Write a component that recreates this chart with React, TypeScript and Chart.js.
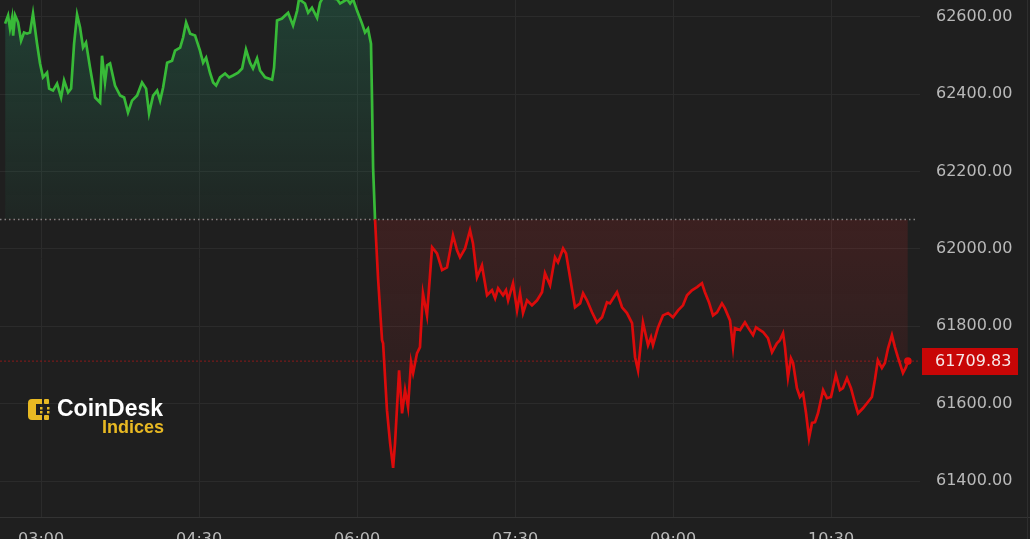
import React, { useEffect, useRef } from "react";
import { Chart, registerables } from "chart.js";

Chart.register(...registerables);

// minutes since 00:00
const times: number[] = [
  159.5, 161.2, 162.3, 163.5, 164.1, 165.2, 166.9, 168.6, 170.3, 172.0, 173.7, 175.4, 177.7, 179.4, 181.1, 183.4, 184.6, 186.8, 189.1, 191.4,
  193.1, 195.4, 197.1, 198.8, 200.5, 202.2, 203.9, 205.6, 207.9, 210.8, 213.6, 214.7, 216.4, 217.6, 219.3, 222.1, 225.0, 227.3, 229.5, 231.8,
  234.7, 237.5, 239.8, 241.5, 243.8, 246.1, 247.8, 249.5, 251.8, 254.6, 256.3, 259.2, 260.9, 262.6, 264.9, 267.7, 270.5, 272.3, 274.0, 276.2,
  278.0, 279.7, 281.9, 284.8, 287.1, 289.3, 292.2, 294.5, 296.7, 299.0, 300.7, 303.0, 304.7, 307.6, 311.6, 312.7, 314.4, 317.2, 319.0, 320.7,
  323.5, 325.8, 326.9, 330.3, 332.1, 334.3, 337.2, 338.9, 340.6, 344.6, 348.6, 350.3, 354.3, 356.0, 357.7, 360.0, 362.8, 364.5, 366.2, 367.9,
  368.5, 369.1, 370.2,
  371.9, 374.2, 374.8, 377.0, 378.8, 380.5, 381.6, 383.9, 385.6, 387.3, 389.0, 390.7, 391.9, 394.1, 395.8, 397.5, 399.8, 402.7, 405.5, 408.4,
  411.2, 414.6, 416.9, 418.6, 421.5, 424.3, 426.0, 428.3, 431.1, 434.0, 436.8, 438.6, 440.3, 443.1, 444.8, 446.0, 448.8, 451.1, 452.8, 454.5,
  456.8, 459.6, 462.5, 465.3, 467.0, 469.9, 472.7, 474.4, 477.3, 479.0, 481.3, 484.1, 487.0, 488.7, 490.9, 493.8, 496.6, 499.5, 502.3, 504.0,
  508.0, 510.9, 513.7, 516.6, 518.3, 520.0, 522.8, 525.7, 527.4, 528.5, 531.4, 534.2, 537.1, 539.9, 542.8, 545.6, 547.9, 550.7, 553.6, 556.4,
  558.1, 560.4, 562.7, 565.0, 567.8, 569.5, 572.4, 574.1, 575.2, 578.1, 580.9, 582.6, 585.5, 587.2, 589.5, 591.2, 594.0, 596.3, 599.1, 600.8,
  602.6, 603.7, 605.4, 607.1, 608.3, 610.5, 612.2, 614.0, 615.7, 617.4, 619.1, 620.8, 622.5, 625.4, 627.6, 629.9, 632.7, 635.0, 636.7, 639.0,
  641.3, 643.6, 645.3, 648.1, 650.4, 653.2, 654.9, 656.6, 658.9, 660.6, 662.4, 664.6, 666.3, 668.0, 670.9, 672.6, 673.7,
];

const prices: number[] = [
  62582, 62603, 62569, 62597, 62551, 62603, 62585, 62538, 62559, 62556, 62559, 62608, 62530, 62479, 62443, 62455, 62414, 62409, 62427, 62391,
  62435, 62404, 62414, 62530, 62605, 62572, 62520, 62533, 62468, 62391, 62378, 62499, 62430, 62474, 62479, 62422, 62396, 62391, 62352, 62383,
  62396, 62430, 62414, 62350, 62396, 62409, 62383, 62417, 62481, 62486, 62512, 62520, 62546, 62585, 62556, 62551, 62512, 62481, 62494, 62455,
  62430, 62422, 62443, 62453, 62443, 62448, 62455, 62466, 62515, 62481, 62466, 62492, 62461, 62443, 62437, 62468, 62590, 62595, 62603, 62610,
  62577, 62615, 62645, 62634, 62610, 62623, 62597, 62636, 62650, 62648, 62645, 62634, 62645, 62634, 62645, 62615, 62582, 62559, 62569, 62530,
  62383, 62210, 62076,
  61926, 61764, 61756, 61583, 61498, 61434, 61498, 61686, 61575, 61635, 61591, 61707, 61679, 61730, 61746, 61885, 61828, 62004, 61988, 61945,
  61952, 62035, 61996, 61978, 62001, 62048, 62014, 61926, 61957, 61880, 61893, 61872, 61898, 61880, 61893, 61867, 61911, 61841, 61885, 61834,
  61867, 61854, 61867, 61888, 61937, 61906, 61978, 61965, 62001, 61988, 61926, 61849, 61859, 61885, 61867, 61836, 61810, 61823, 61862, 61859,
  61888, 61849, 61834, 61808, 61720, 61686, 61810, 61751, 61772, 61751, 61797, 61828, 61834, 61823, 61841, 61854, 61880, 61893, 61901, 61911,
  61888, 61862, 61828, 61836, 61859, 61846, 61815, 61746, 61795, 61790, 61810, 61797, 61777, 61797, 61790, 61785, 61769, 61733, 61756, 61764,
  61782, 61746, 61668, 61717, 61705, 61640, 61617, 61627, 61575, 61511, 61550, 61552, 61575, 61635, 61614, 61617, 61674, 61635, 61640, 61666,
  61640, 61601, 61575, 61588, 61601, 61617, 61661, 61712, 61692, 61705, 61743, 61777, 61746, 61720, 61679, 61694, 61709.83,
];

const baselinePrice = 62076;
const lastPrice = 61709.83;
const timeTicks: number[] = [180, 270, 360, 450, 540, 630];
const priceTicks: number[] = [61400, 61600, 61800, 62000, 62200, 62400, 62600];
const timeRange: number[] = [156.6, 680.6];
const priceRange: number[] = [61307, 62643];

const GREEN = "#38ba38";
const RED = "#dc0b0b";
const FONT = "'DejaVu Sans', sans-serif";

const pad2 = (n: number) => String(n).padStart(2, "0");

export default function App() {
  const ref = useRef<HTMLCanvasElement | null>(null);

  useEffect(() => {
    document.body.style.margin = "0";
    document.body.style.background = "#1f1f1f";
    const canvas = ref.current!;
    const n = Math.min(times.length, prices.length);
    const series = [] as { x: number; y: number }[];
    for (let i = 0; i < n; i++) series.push({ x: times[i], y: prices[i] });
    const lastIdx = n - 1;

    const priceLabel = {
      id: "priceLabel",
      afterDraw(chart: any) {
        const { ctx, chartArea } = chart;
        const y = chart.scales.y.getPixelForValue(lastPrice);
        ctx.save();
        ctx.fillStyle = "#c80606";
        ctx.fillRect(chartArea.right + 2, Math.round(y) - 13, 96, 27);
        ctx.fillStyle = "#f6e8e8";
        ctx.font = `16px ${FONT}`;
        ctx.textBaseline = "middle";
        ctx.textAlign = "left";
        ctx.fillText(lastPrice.toFixed(2), chartArea.right + 15, Math.round(y) + 1);
        ctx.restore();
      },
    };

    const chart = new Chart(canvas, {
      type: "line",
      data: {
        datasets: [
          {
            data: series,
            borderWidth: 2.7,
            borderColor: GREEN,
            segment: {
              borderColor: (c: any) => ((c.p0.parsed.y + c.p1.parsed.y) / 2 < baselinePrice ? RED : GREEN),
            },
            pointRadius: (c: any) => (c.dataIndex === lastIdx ? 2.5 : 0),
            pointHoverRadius: 0,
            pointBackgroundColor: RED,
            pointBorderColor: RED,
            tension: 0,
            fill: false,
          } as any,
          {
            data: [
              { x: timeRange[0], y: baselinePrice },
              { x: timeRange[1] - 1.2, y: baselinePrice },
            ],
            borderColor: "rgba(150,150,150,0.85)",
            borderWidth: 1.5,
            borderDash: [1.5, 3],
            pointRadius: 0,
            pointHoverRadius: 0,
            fill: false,
          },
          {
            data: [
              { x: timeRange[0], y: lastPrice },
              { x: timeRange[1], y: lastPrice },
            ],
            borderColor: "rgba(150,25,25,0.9)",
            borderWidth: 1,
            borderDash: [2, 2],
            pointRadius: 0,
            pointHoverRadius: 0,
            fill: false,
          },
        ],
      },
      options: {
        animation: false,
        responsive: false,
        maintainAspectRatio: false,
        layout: { padding: 0, autoPadding: false },
        plugins: { legend: { display: false }, tooltip: { enabled: false } },
        scales: {
          x: {
            type: "linear",
            min: timeRange[0],
            max: timeRange[1],
            afterBuildTicks: (s: any) => {
              s.ticks = timeTicks.map((v) => ({ value: v }));
            },
            afterFit: (s: any) => {
              s.height = 22;
              s.paddingLeft = 0;
              s.paddingRight = 0;
            },
            ticks: {
              color: "#b9b9b9",
              font: { family: FONT, size: 16 },
              padding: 13,
              maxRotation: 0,
              autoSkip: false,
              callback: (v: any) => `${pad2(Math.floor(v / 60))}:${pad2(Math.round(v % 60))}`,
            },
            grid: { color: "#2b2b2b", lineWidth: 1, drawTicks: false },
            border: { display: false },
          },
          y: {
            type: "linear",
            position: "right",
            min: priceRange[0],
            max: priceRange[1],
            afterBuildTicks: (s: any) => {
              s.ticks = priceTicks.map((v) => ({ value: v }));
            },
            afterFit: (s: any) => {
              s.width = 110;
              s.paddingTop = 0;
              s.paddingBottom = 0;
            },
            ticks: {
              color: "#b9b9b9",
              font: { family: FONT, size: 16 },
              padding: 16,
              callback: (v: any) => Number(v).toFixed(2),
            },
            grid: { color: "#2b2b2b", lineWidth: 1, drawTicks: false },
            border: { display: false },
          },
        },
      } as any,
      plugins: [priceLabel],
    });

    // baseline area fills (gradients need the resolved chart area)
    const ctx = chart.ctx;
    const ca = chart.chartArea;
    const yb = chart.scales.y.getPixelForValue(baselinePrice);
    const gUp = ctx.createLinearGradient(0, ca.top, 0, yb);
    gUp.addColorStop(0, "rgba(38,140,100,0.30)");
    gUp.addColorStop(1, "rgba(38,140,100,0.07)");
    const gDown = ctx.createLinearGradient(0, yb, 0, ca.bottom);
    gDown.addColorStop(0, "rgba(205,40,40,0.17)");
    gDown.addColorStop(1, "rgba(205,40,40,0.02)");
    (chart.data.datasets[0] as any).fill = { target: { value: baselinePrice }, above: gUp, below: gDown };
    chart.update();

    return () => chart.destroy();
  }, []);

  return (
    <div
      style={{
        position: "absolute",
        left: 0,
        top: 0,
        width: 1030,
        height: 539,
        overflow: "hidden",
        background: "#1f1f1f",
      }}
    >
      <canvas ref={ref} width={1030} height={539} style={{ display: "block", width: 1030, height: 539 }} />
      <div style={{ position: "absolute", left: 0, top: 517, width: 1030, height: 1, background: "#333333" }} />
      <div style={{ position: "absolute", left: 1027, top: 0, width: 1, height: 539, background: "#2e2e2e" }} />
      <svg style={{ position: "absolute", left: 27, top: 398 }} width={26} height={23} viewBox="0 0 26 23">
        <path d="M5 1 H15 V6 H9 V17 H15 V22 H5 Q1 22 1 18 V5 Q1 1 5 1 Z" fill="#e8b923" />
        <rect x={17} y={1} width={5} height={5} rx={1} fill="#e8b923" />
        <rect x={17} y={17} width={5} height={5} rx={1} fill="#e8b923" />
        <rect x={13} y={9} width={2.5} height={2.5} fill="#e8b923" />
        <rect x={13} y={13} width={2.5} height={2.5} fill="#e8b923" />
        <rect x={20} y={9} width={2.5} height={2.5} fill="#e8b923" />
        <rect x={20} y={13} width={2.5} height={2.5} fill="#e8b923" />
      </svg>
      <div
        style={{
          position: "absolute",
          left: 57,
          top: 395,
          fontFamily: "'Liberation Sans', Arial, sans-serif",
          fontWeight: 700,
          fontSize: 23,
          lineHeight: "26px",
          color: "#ffffff",
        }}
      >
        CoinDesk
      </div>
      <div
        style={{
          position: "absolute",
          left: 102,
          top: 417,
          fontFamily: "'Liberation Sans', Arial, sans-serif",
          fontWeight: 700,
          fontSize: 18,
          lineHeight: "21px",
          color: "#e8b923",
        }}
      >
        Indices
      </div>
    </div>
  );
}
